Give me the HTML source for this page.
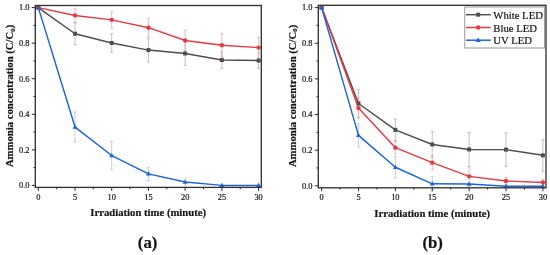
<!DOCTYPE html>
<html><head><meta charset="utf-8"><style>
html,body{margin:0;padding:0;background:#fff;}
svg{display:block;}
text{font-family:"Liberation Serif", serif;fill:#141414;stroke:#141414;stroke-width:0.2px;}
</style></head><body>
<svg width="550" height="255" viewBox="0 0 550 255">
<rect width="550" height="255" fill="#fff"/>
<path d="M75.02 22.71V44.76M73.52 22.71h3M73.52 44.76h3" stroke="#a8a8a8" stroke-width="0.7" fill="none"/>
<path d="M111.73 33.74V52.23M110.23 33.74h3M110.23 52.23h3" stroke="#a8a8a8" stroke-width="0.7" fill="none"/>
<path d="M148.45 38.36V61.83M146.95 38.36h3M146.95 61.83h3" stroke="#a8a8a8" stroke-width="0.7" fill="none"/>
<path d="M185.17 41.56V65.38M183.67 41.56h3M183.67 65.38h3" stroke="#a8a8a8" stroke-width="0.7" fill="none"/>
<path d="M221.88 51.69V68.41M220.38 51.69h3M220.38 68.41h3" stroke="#a8a8a8" stroke-width="0.7" fill="none"/>
<path d="M258.60 52.76V68.41M257.10 52.76h3M257.10 68.41h3" stroke="#a8a8a8" stroke-width="0.7" fill="none"/>
<path d="M75.02 8.31V22.54M73.52 8.31h3M73.52 22.54h3" stroke="#e0a0a4" stroke-width="0.7" fill="none"/>
<path d="M111.73 11.69V28.05M110.23 11.69h3M110.23 28.05h3" stroke="#e0a0a4" stroke-width="0.7" fill="none"/>
<path d="M148.45 18.62V36.76M146.95 18.62h3M146.95 36.76h3" stroke="#e0a0a4" stroke-width="0.7" fill="none"/>
<path d="M185.17 30.36V50.63M183.67 30.36h3M183.67 50.63h3" stroke="#e0a0a4" stroke-width="0.7" fill="none"/>
<path d="M221.88 33.74V56.85M220.38 33.74h3M220.38 56.85h3" stroke="#e0a0a4" stroke-width="0.7" fill="none"/>
<path d="M258.60 37.29V57.92M257.10 37.29h3M257.10 57.92h3" stroke="#e0a0a4" stroke-width="0.7" fill="none"/>
<path d="M75.02 111.97V142.19M73.52 111.97h3M73.52 142.19h3" stroke="#a8bcd8" stroke-width="0.7" fill="none"/>
<path d="M111.73 141.48V169.58M110.23 141.48h3M110.23 169.58h3" stroke="#a8bcd8" stroke-width="0.7" fill="none"/>
<path d="M148.45 167.09V180.60M146.95 167.09h3M146.95 180.60h3" stroke="#a8bcd8" stroke-width="0.7" fill="none"/>
<path d="M185.17 178.82V185.22M183.67 178.82h3M183.67 185.22h3" stroke="#a8bcd8" stroke-width="0.7" fill="none"/>
<polyline points="38.30,7.60 75.02,33.74 111.73,42.98 148.45,50.09 185.17,53.47 221.88,60.05 258.60,60.58" fill="none" stroke="#4e4e4e" stroke-width="1.45" stroke-linejoin="round"/>
<rect x="36.30" y="5.60" width="4" height="4" fill="#4e4e4e"/>
<rect x="73.02" y="31.74" width="4" height="4" fill="#4e4e4e"/>
<rect x="109.73" y="40.98" width="4" height="4" fill="#4e4e4e"/>
<rect x="146.45" y="48.09" width="4" height="4" fill="#4e4e4e"/>
<rect x="183.17" y="51.47" width="4" height="4" fill="#4e4e4e"/>
<rect x="219.88" y="58.05" width="4" height="4" fill="#4e4e4e"/>
<rect x="256.60" y="58.58" width="4" height="4" fill="#4e4e4e"/>
<polyline points="38.30,7.60 75.02,15.42 111.73,19.87 148.45,27.69 185.17,40.49 221.88,45.29 258.60,47.60" fill="none" stroke="#e33b44" stroke-width="1.45" stroke-linejoin="round"/>
<circle cx="38.30" cy="7.60" r="2.2" fill="#e33b44"/>
<circle cx="75.02" cy="15.42" r="2.2" fill="#e33b44"/>
<circle cx="111.73" cy="19.87" r="2.2" fill="#e33b44"/>
<circle cx="148.45" cy="27.69" r="2.2" fill="#e33b44"/>
<circle cx="185.17" cy="40.49" r="2.2" fill="#e33b44"/>
<circle cx="221.88" cy="45.29" r="2.2" fill="#e33b44"/>
<circle cx="258.60" cy="47.60" r="2.2" fill="#e33b44"/>
<polyline points="38.30,7.60 75.02,127.08 111.73,155.53 148.45,173.84 185.17,182.02 221.88,185.40 258.60,185.40" fill="none" stroke="#1f63d6" stroke-width="1.45" stroke-linejoin="round"/>
<path d="M38.30 5.00L40.80 9.30L35.80 9.30Z" fill="#1f63d6"/>
<path d="M75.02 124.48L77.52 128.78L72.52 128.78Z" fill="#1f63d6"/>
<path d="M111.73 152.93L114.23 157.23L109.23 157.23Z" fill="#1f63d6"/>
<path d="M148.45 171.24L150.95 175.54L145.95 175.54Z" fill="#1f63d6"/>
<path d="M185.17 179.42L187.67 183.72L182.67 183.72Z" fill="#1f63d6"/>
<path d="M221.88 182.80L224.38 187.10L219.38 187.10Z" fill="#1f63d6"/>
<path d="M258.60 182.80L261.10 187.10L256.10 187.10Z" fill="#1f63d6"/>
<rect x="35.30" y="5.50" width="226.00" height="181.90" fill="none" stroke="#333" stroke-width="1.35"/>
<path d="M31.80 185.40H35.30" stroke="#2a2a2a" stroke-width="1"/>
<text x="29.50" y="188.25" text-anchor="end" font-size="8.4">0.0</text>
<path d="M31.80 149.84H35.30" stroke="#2a2a2a" stroke-width="1"/>
<text x="29.50" y="152.69" text-anchor="end" font-size="8.4">0.2</text>
<path d="M31.80 114.28H35.30" stroke="#2a2a2a" stroke-width="1"/>
<text x="29.50" y="117.13" text-anchor="end" font-size="8.4">0.4</text>
<path d="M31.80 78.72H35.30" stroke="#2a2a2a" stroke-width="1"/>
<text x="29.50" y="81.57" text-anchor="end" font-size="8.4">0.6</text>
<path d="M31.80 43.16H35.30" stroke="#2a2a2a" stroke-width="1"/>
<text x="29.50" y="46.01" text-anchor="end" font-size="8.4">0.8</text>
<path d="M31.80 7.60H35.30" stroke="#2a2a2a" stroke-width="1"/>
<text x="29.50" y="10.45" text-anchor="end" font-size="8.4">1.0</text>
<path d="M33.50 167.62H35.30" stroke="#2a2a2a" stroke-width="1"/>
<path d="M33.50 132.06H35.30" stroke="#2a2a2a" stroke-width="1"/>
<path d="M33.50 96.50H35.30" stroke="#2a2a2a" stroke-width="1"/>
<path d="M33.50 60.94H35.30" stroke="#2a2a2a" stroke-width="1"/>
<path d="M33.50 25.38H35.30" stroke="#2a2a2a" stroke-width="1"/>
<path d="M38.30 187.40V190.90" stroke="#2a2a2a" stroke-width="1"/>
<text x="38.30" y="199.80" text-anchor="middle" font-size="8.4">0</text>
<path d="M75.02 187.40V190.90" stroke="#2a2a2a" stroke-width="1"/>
<text x="75.02" y="199.80" text-anchor="middle" font-size="8.4">5</text>
<path d="M111.73 187.40V190.90" stroke="#2a2a2a" stroke-width="1"/>
<text x="111.73" y="199.80" text-anchor="middle" font-size="8.4">10</text>
<path d="M148.45 187.40V190.90" stroke="#2a2a2a" stroke-width="1"/>
<text x="148.45" y="199.80" text-anchor="middle" font-size="8.4">15</text>
<path d="M185.17 187.40V190.90" stroke="#2a2a2a" stroke-width="1"/>
<text x="185.17" y="199.80" text-anchor="middle" font-size="8.4">20</text>
<path d="M221.88 187.40V190.90" stroke="#2a2a2a" stroke-width="1"/>
<text x="221.88" y="199.80" text-anchor="middle" font-size="8.4">25</text>
<path d="M258.60 187.40V190.90" stroke="#2a2a2a" stroke-width="1"/>
<text x="258.60" y="199.80" text-anchor="middle" font-size="8.4">30</text>
<path d="M56.66 187.40V189.20" stroke="#2a2a2a" stroke-width="1"/>
<path d="M93.38 187.40V189.20" stroke="#2a2a2a" stroke-width="1"/>
<path d="M130.09 187.40V189.20" stroke="#2a2a2a" stroke-width="1"/>
<path d="M166.81 187.40V189.20" stroke="#2a2a2a" stroke-width="1"/>
<path d="M203.52 187.40V189.20" stroke="#2a2a2a" stroke-width="1"/>
<path d="M240.24 187.40V189.20" stroke="#2a2a2a" stroke-width="1"/>
<path d="M358.48 89.39V117.55M356.98 89.39h3M356.98 117.55h3" stroke="#a8a8a8" stroke-width="0.7" fill="none"/>
<path d="M395.37 118.98V140.72M393.87 118.98h3M393.87 140.72h3" stroke="#a8a8a8" stroke-width="0.7" fill="none"/>
<path d="M432.25 131.63V157.29M430.75 131.63h3M430.75 157.29h3" stroke="#a8a8a8" stroke-width="0.7" fill="none"/>
<path d="M469.13 132.34V166.55M467.63 132.34h3M467.63 166.55h3" stroke="#a8a8a8" stroke-width="0.7" fill="none"/>
<path d="M506.02 132.87V166.38M504.52 132.87h3M504.52 166.38h3" stroke="#a8a8a8" stroke-width="0.7" fill="none"/>
<path d="M542.90 139.29V171.37M541.40 139.29h3M541.40 171.37h3" stroke="#a8a8a8" stroke-width="0.7" fill="none"/>
<path d="M358.48 98.13V118.08M356.98 98.13h3M356.98 118.08h3" stroke="#e0a0a4" stroke-width="0.7" fill="none"/>
<path d="M395.37 141.43V153.90M393.87 141.43h3M393.87 153.90h3" stroke="#e0a0a4" stroke-width="0.7" fill="none"/>
<path d="M432.25 155.68V169.58M430.75 155.68h3M430.75 169.58h3" stroke="#e0a0a4" stroke-width="0.7" fill="none"/>
<path d="M469.13 166.55V186.16M467.63 166.55h3M467.63 186.16h3" stroke="#e0a0a4" stroke-width="0.7" fill="none"/>
<path d="M506.02 177.42V184.55M504.52 177.42h3M504.52 184.55h3" stroke="#e0a0a4" stroke-width="0.7" fill="none"/>
<path d="M542.90 179.74V185.09M541.40 179.74h3M541.40 185.09h3" stroke="#e0a0a4" stroke-width="0.7" fill="none"/>
<path d="M358.48 123.61V147.13M356.98 123.61h3M356.98 147.13h3" stroke="#a8bcd8" stroke-width="0.7" fill="none"/>
<path d="M395.37 156.58V177.96M393.87 156.58h3M393.87 177.96h3" stroke="#a8bcd8" stroke-width="0.7" fill="none"/>
<path d="M432.25 176.71V190.97M430.75 176.71h3M430.75 190.97h3" stroke="#a8bcd8" stroke-width="0.7" fill="none"/>
<polyline points="321.60,7.60 358.48,103.47 395.37,129.85 432.25,144.46 469.13,149.45 506.02,149.63 542.90,155.33" fill="none" stroke="#4e4e4e" stroke-width="1.45" stroke-linejoin="round"/>
<rect x="319.60" y="5.60" width="4" height="4" fill="#4e4e4e"/>
<rect x="356.48" y="101.47" width="4" height="4" fill="#4e4e4e"/>
<rect x="393.37" y="127.85" width="4" height="4" fill="#4e4e4e"/>
<rect x="430.25" y="142.46" width="4" height="4" fill="#4e4e4e"/>
<rect x="467.13" y="147.45" width="4" height="4" fill="#4e4e4e"/>
<rect x="504.02" y="147.63" width="4" height="4" fill="#4e4e4e"/>
<rect x="540.90" y="153.33" width="4" height="4" fill="#4e4e4e"/>
<polyline points="321.60,7.60 358.48,108.10 395.37,147.67 432.25,162.63 469.13,176.36 506.02,180.99 542.90,182.41" fill="none" stroke="#e33b44" stroke-width="1.45" stroke-linejoin="round"/>
<circle cx="321.60" cy="7.60" r="2.2" fill="#e33b44"/>
<circle cx="358.48" cy="108.10" r="2.2" fill="#e33b44"/>
<circle cx="395.37" cy="147.67" r="2.2" fill="#e33b44"/>
<circle cx="432.25" cy="162.63" r="2.2" fill="#e33b44"/>
<circle cx="469.13" cy="176.36" r="2.2" fill="#e33b44"/>
<circle cx="506.02" cy="180.99" r="2.2" fill="#e33b44"/>
<circle cx="542.90" cy="182.41" r="2.2" fill="#e33b44"/>
<polyline points="321.60,7.60 358.48,135.37 395.37,167.27 432.25,183.84 469.13,184.02 506.02,186.33 542.90,186.33" fill="none" stroke="#1f63d6" stroke-width="1.45" stroke-linejoin="round"/>
<path d="M321.60 5.00L324.10 9.30L319.10 9.30Z" fill="#1f63d6"/>
<path d="M358.48 132.77L360.98 137.07L355.98 137.07Z" fill="#1f63d6"/>
<path d="M395.37 164.67L397.87 168.97L392.87 168.97Z" fill="#1f63d6"/>
<path d="M432.25 181.24L434.75 185.54L429.75 185.54Z" fill="#1f63d6"/>
<path d="M469.13 181.42L471.63 185.72L466.63 185.72Z" fill="#1f63d6"/>
<path d="M506.02 183.73L508.52 188.03L503.52 188.03Z" fill="#1f63d6"/>
<path d="M542.90 183.73L545.40 188.03L540.40 188.03Z" fill="#1f63d6"/>
<rect x="318.30" y="5.30" width="227.70" height="182.50" fill="none" stroke="#333" stroke-width="1.35"/>
<path d="M314.80 185.80H318.30" stroke="#2a2a2a" stroke-width="1"/>
<text x="312.50" y="188.65" text-anchor="end" font-size="8.4">0.0</text>
<path d="M314.80 150.16H318.30" stroke="#2a2a2a" stroke-width="1"/>
<text x="312.50" y="153.01" text-anchor="end" font-size="8.4">0.2</text>
<path d="M314.80 114.52H318.30" stroke="#2a2a2a" stroke-width="1"/>
<text x="312.50" y="117.37" text-anchor="end" font-size="8.4">0.4</text>
<path d="M314.80 78.88H318.30" stroke="#2a2a2a" stroke-width="1"/>
<text x="312.50" y="81.73" text-anchor="end" font-size="8.4">0.6</text>
<path d="M314.80 43.24H318.30" stroke="#2a2a2a" stroke-width="1"/>
<text x="312.50" y="46.09" text-anchor="end" font-size="8.4">0.8</text>
<path d="M314.80 7.60H318.30" stroke="#2a2a2a" stroke-width="1"/>
<text x="312.50" y="10.45" text-anchor="end" font-size="8.4">1.0</text>
<path d="M316.50 167.98H318.30" stroke="#2a2a2a" stroke-width="1"/>
<path d="M316.50 132.34H318.30" stroke="#2a2a2a" stroke-width="1"/>
<path d="M316.50 96.70H318.30" stroke="#2a2a2a" stroke-width="1"/>
<path d="M316.50 61.06H318.30" stroke="#2a2a2a" stroke-width="1"/>
<path d="M316.50 25.42H318.30" stroke="#2a2a2a" stroke-width="1"/>
<path d="M321.60 187.80V191.30" stroke="#2a2a2a" stroke-width="1"/>
<text x="321.60" y="200.40" text-anchor="middle" font-size="8.4">0</text>
<path d="M358.48 187.80V191.30" stroke="#2a2a2a" stroke-width="1"/>
<text x="358.48" y="200.40" text-anchor="middle" font-size="8.4">5</text>
<path d="M395.37 187.80V191.30" stroke="#2a2a2a" stroke-width="1"/>
<text x="395.37" y="200.40" text-anchor="middle" font-size="8.4">10</text>
<path d="M432.25 187.80V191.30" stroke="#2a2a2a" stroke-width="1"/>
<text x="432.25" y="200.40" text-anchor="middle" font-size="8.4">15</text>
<path d="M469.13 187.80V191.30" stroke="#2a2a2a" stroke-width="1"/>
<text x="469.13" y="200.40" text-anchor="middle" font-size="8.4">20</text>
<path d="M506.02 187.80V191.30" stroke="#2a2a2a" stroke-width="1"/>
<text x="506.02" y="200.40" text-anchor="middle" font-size="8.4">25</text>
<path d="M542.90 187.80V191.30" stroke="#2a2a2a" stroke-width="1"/>
<text x="542.90" y="200.40" text-anchor="middle" font-size="8.4">30</text>
<path d="M340.04 187.80V189.60" stroke="#2a2a2a" stroke-width="1"/>
<path d="M376.93 187.80V189.60" stroke="#2a2a2a" stroke-width="1"/>
<path d="M413.81 187.80V189.60" stroke="#2a2a2a" stroke-width="1"/>
<path d="M450.69 187.80V189.60" stroke="#2a2a2a" stroke-width="1"/>
<path d="M487.57 187.80V189.60" stroke="#2a2a2a" stroke-width="1"/>
<path d="M524.46 187.80V189.60" stroke="#2a2a2a" stroke-width="1"/>

<rect x="464.8" y="7.0" width="79.8" height="41.0" fill="#fff" stroke="#8a8a8a" stroke-width="0.9"/>
<path d="M466 14.7H490.8" stroke="#4e4e4e" stroke-width="1.45"/><rect x="476.2" y="12.7" width="4" height="4" fill="#4e4e4e"/>
<path d="M466 27.5H490.8" stroke="#e33b44" stroke-width="1.45"/><circle cx="478.2" cy="27.5" r="2.2" fill="#e33b44"/>
<path d="M466 40.2H490.8" stroke="#1f63d6" stroke-width="1.45"/><path d="M478.2 37.6L480.7 41.9L475.7 41.9Z" fill="#1f63d6"/>
<text transform="translate(493.3 18.5) scale(1 1.05)" font-size="10.7">White LED</text>
<text transform="translate(493.3 31.5) scale(1 1.05)" font-size="10.7">Blue LED</text>
<text transform="translate(493.3 44.2) scale(1 1.05)" font-size="10.7">UV LED</text>

<text transform="translate(12.8 95.9) rotate(-90)" text-anchor="middle" font-size="10.7" font-weight="bold">Ammonia concentration (C/C<tspan font-size="7" dy="1.9">0</tspan><tspan dy="-1.9">)</tspan></text>
<text transform="translate(295.5 95.9) rotate(-90)" text-anchor="middle" font-size="10.7" font-weight="bold">Ammonia concentration (C/C<tspan font-size="7" dy="1.9">0</tspan><tspan dy="-1.9">)</tspan></text>
<text x="148.2" y="216.2" text-anchor="middle" font-size="10.7" font-weight="bold">Irradiation time (minute)</text>
<text x="432.2" y="216.6" text-anchor="middle" font-size="10.7" font-weight="bold">Irradiation time (minute)</text>
<text x="147.6" y="247.9" text-anchor="middle" font-size="16.8" font-weight="bold">(a)</text>
<text x="432.7" y="247.9" text-anchor="middle" font-size="16.8" font-weight="bold">(b)</text>
</svg>
</body></html>
